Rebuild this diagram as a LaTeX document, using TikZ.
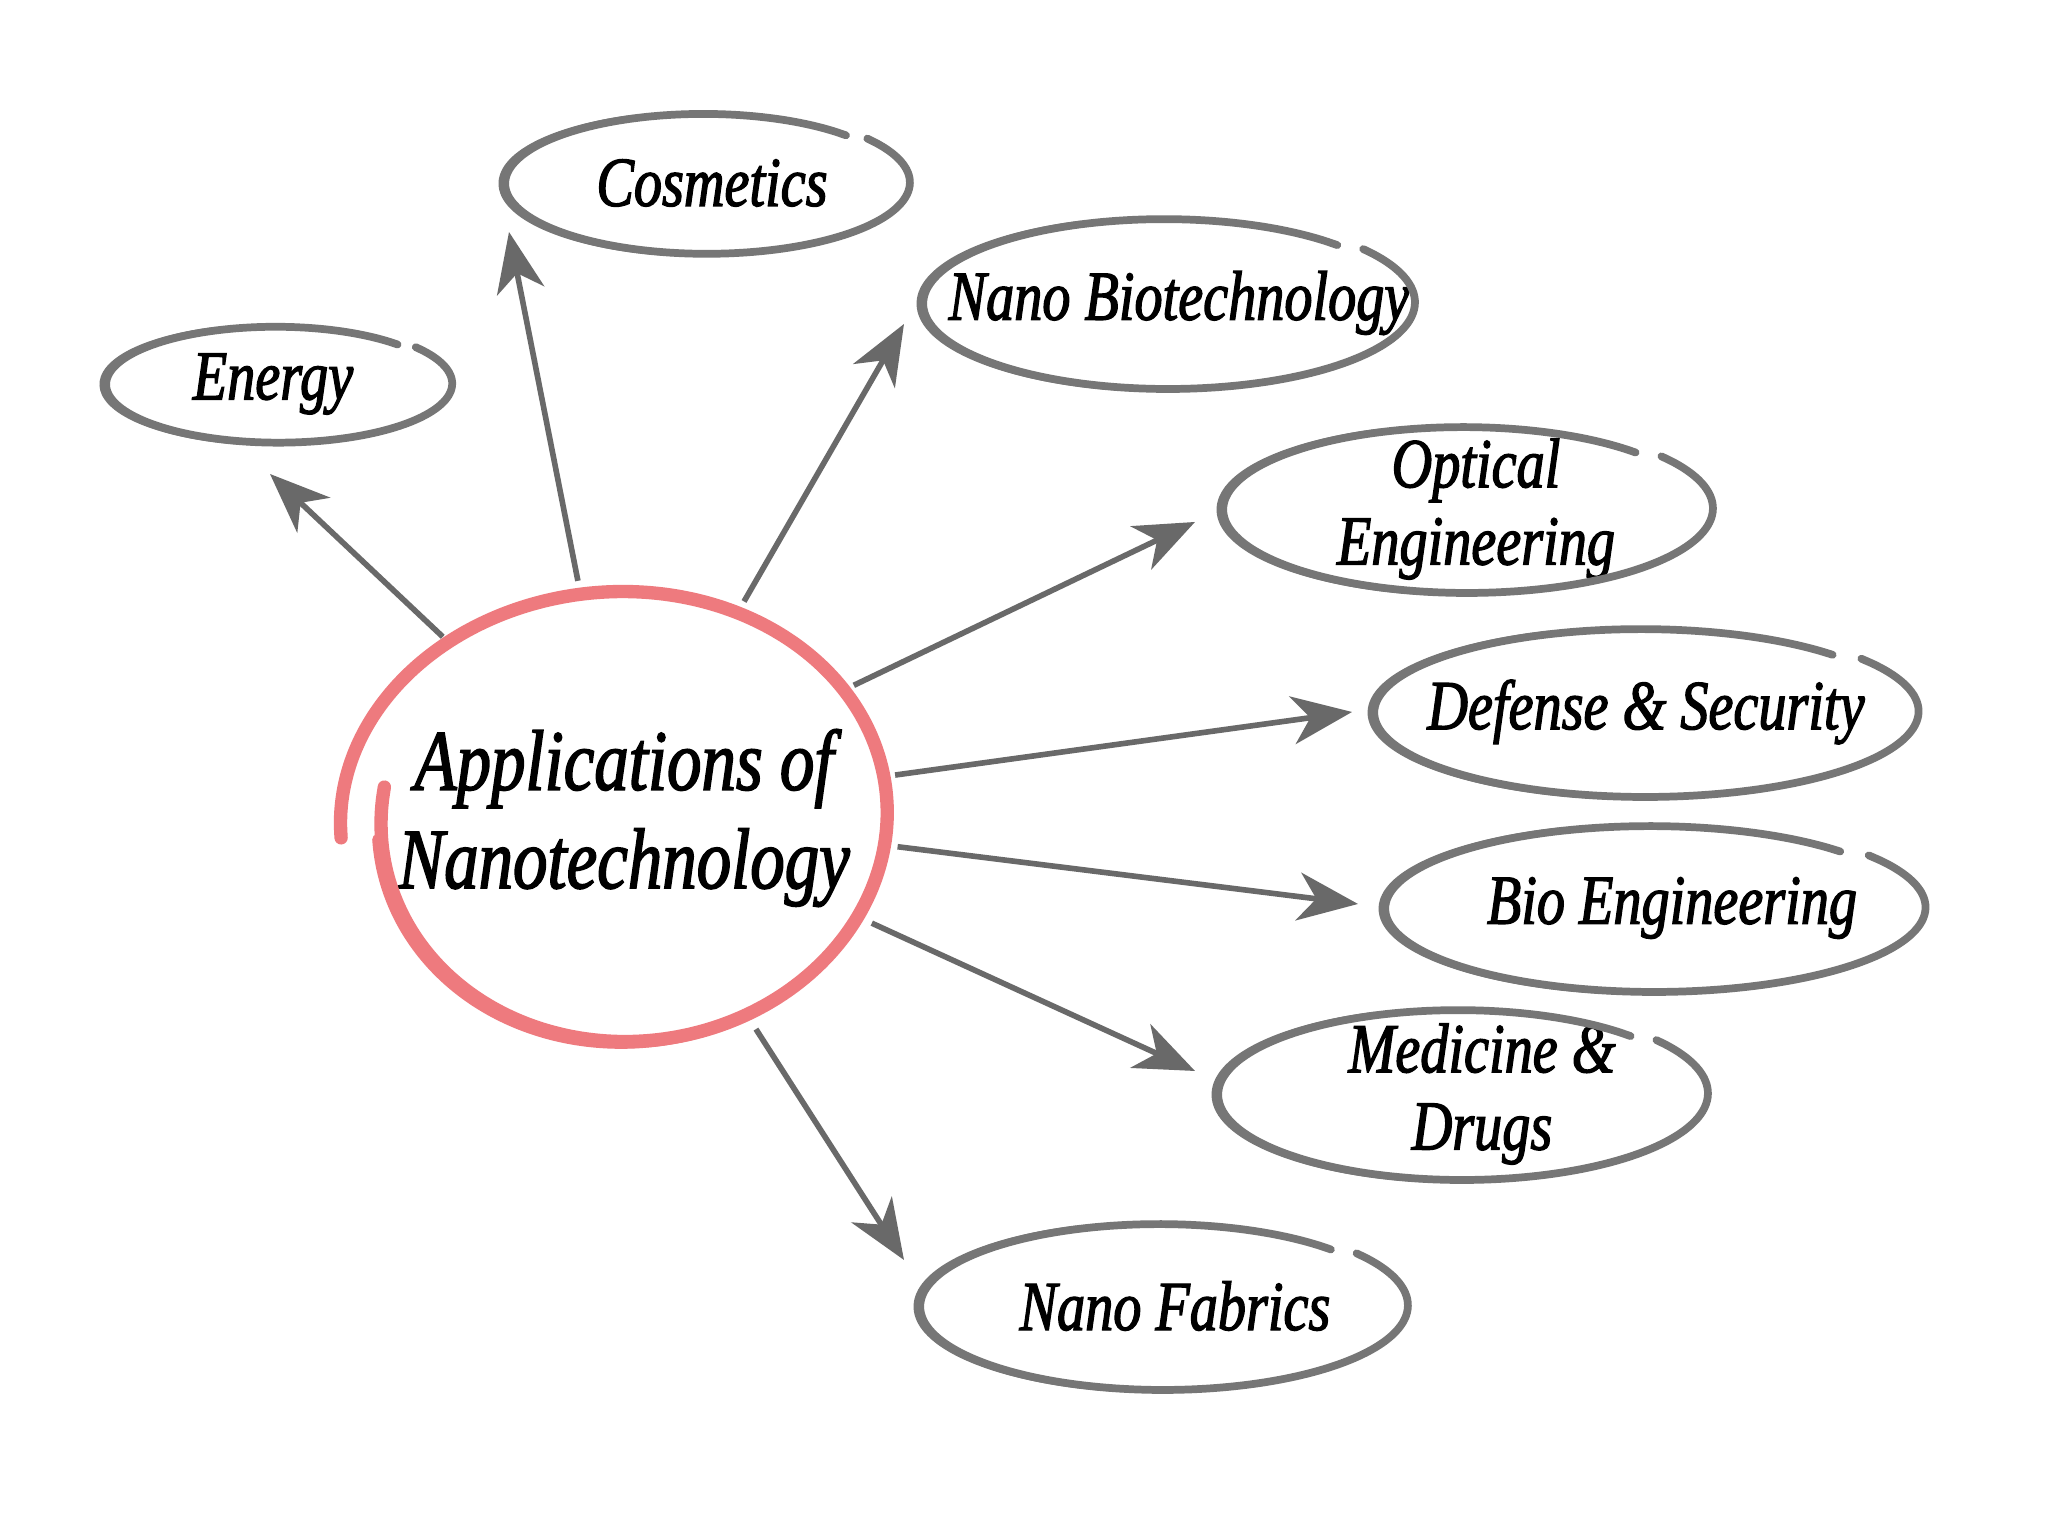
\documentclass[tikz,border=0pt]{standalone}
\usepackage{fontspec}
\newfontfamily\diagfont{Liberation Serif}[FakeStretch=0.8, FakeBold=1.8]
\usetikzlibrary{arrows.meta,positioning,shapes.geometric}
\definecolor{ringgray}{RGB}{118,118,118}
\definecolor{arrowgray}{RGB}{105,105,105}
\definecolor{hubred}{RGB}{238,122,126}

\begin{document}
\begin{tikzpicture}[
        topic/.style={font=\diagfont\itshape\fontsize{20}{22}\selectfont, align=center, inner sep=0pt},
        hub/.style={ellipse, minimum width=5.3cm, minimum height=4.6cm, inner sep=0pt, outer sep=3pt},
        hubtext/.style={font=\diagfont\itshape\fontsize{24.5}{28}\selectfont, align=center},
        ring/.style={draw=ringgray, line width=2.2pt, line cap=round},
        arrow/.style={-{Stealth[length=6mm, width=4.8mm, inset=1.8mm]}, line width=1.6pt, draw=arrowgray}
    ]
        \fill[white] (0,0) rectangle (20.48,15.36);
        \useasboundingbox (0,0) rectangle (20.48,15.36);

        % centre
        \node[hub] (app) at (6.24,7.18) {};
        \node[hubtext] (apptext) at (app) {Applications of\\Nanotechnology};
        \draw[draw=hubred, line width=3.8pt, line cap=round, shift={(app)}]
            plot[domain=172:545, samples=120, smooth]
            ({(2.42+0.42*(\x-172)/373)*cos(\x)}, {(2.22+0.06*(\x-172)/373)*sin(\x)});
        \draw[draw=hubred, line width=3pt, line cap=round, shift={(app)}, xshift=-0.04cm, yshift=-0.02cm]
            plot[domain=185:300, samples=50, smooth]
            ({(2.42+0.42*(\x-172)/373)*cos(\x)}, {(2.22+0.06*(\x-172)/373)*sin(\x)});

        % topics
        \node[topic] (cosm) at (7.12,13.53) {Cosmetics};
        \node[topic] (energy) at (2.73,11.52) {Energy};
        \node[topic] (nanobio) at (11.79,12.33) {Nano Biotechnology};
        \node[topic] (optical) at (14.76,10.27) {Optical\\Engineering};
        \node[topic] (defense) at (16.46,8.24) {Defense \& Security};
        \node[topic] (bioeng) at (16.72,6.28) {Bio Engineering};
        \node[topic] (medicine) at (14.82,4.42) {Medicine \&\\Drugs};
        \node[topic] (fabrics) at (11.75,2.30) {Nano Fabrics};

        \foreach \n/\dx/\rx/\ry in {cosm/-0.07/2.00/0.70, energy/0.04/1.71/0.58,
                nanobio/-0.13/2.43/0.85, optical/-0.11/2.42/0.83, defense/-0.03/2.69/0.84,
                bioeng/-0.20/2.67/0.83, medicine/-0.22/2.42/0.85, fabrics/-0.14/2.41/0.83}
        {
            \draw[ring, shift={(\n)}, xshift=\dx cm]
                plot[domain=44:398, samples=80, smooth]
                ({(0.98+0.05*(\x-44)/354)*\rx*cos(\x)}, {(0.98+0.05*(\x-44)/354)*\ry*sin(\x)});
            % heavier left side
            \draw[ring, line width=1.8pt, shift={(\n)}, xshift=\dx cm - 0.035cm]
                plot[domain=110:265, samples=40, smooth]
                ({(0.98+0.05*(\x-44)/354)*\rx*cos(\x)}, {(0.98+0.05*(\x-44)/354)*\ry*sin(\x)});
        }

        % arrow tips
        \coordinate (tipenergy) at (2.70,10.62);
        \coordinate (tipcosm) at (5.09,13.04);
        \coordinate (tipnanobio) at (9.04,12.12);
        \coordinate (tipoptical) at (11.95,10.14);
        \coordinate (tipdefense) at (13.52,8.24);
        \coordinate (tipbioeng) at (13.58,6.32);
        \coordinate (tipmedicine) at (11.95,4.65);
        \coordinate (tipfabrics) at (9.04,2.76);

        \draw[arrow] (app.135) -- (tipenergy);
        \draw[arrow] (app.101) -- (tipcosm);
        \draw[arrow] (app.61) -- (tipnanobio);
        \draw[arrow] (app.30) -- (tipoptical);
        \draw[arrow] (app.9) -- (tipdefense);
        \draw[arrow] (app.-6) -- (tipbioeng);
        \draw[arrow] (app.-23) -- (tipmedicine);
        \draw[arrow] (app.-58) -- (tipfabrics);
    \end{tikzpicture}
\end{document}
